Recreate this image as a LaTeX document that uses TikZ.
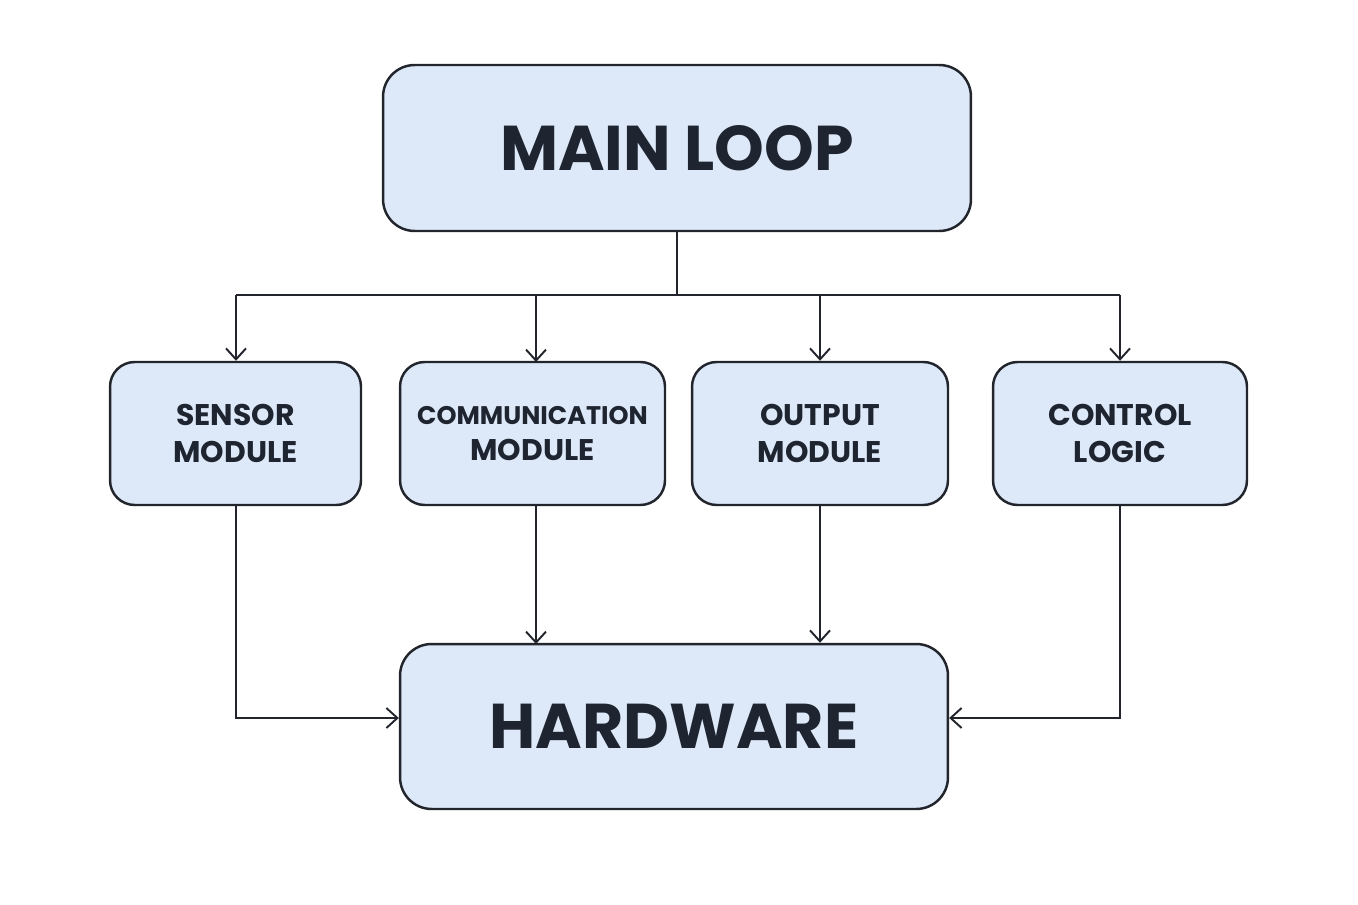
\documentclass[tikz,border=0pt]{standalone}
\usepackage{fontspec}
\setmainfont{Poppins}
\usetikzlibrary{arrows.meta, calc, positioning}
\definecolor{boxFill}{HTML}{DDE9F8}
\definecolor{boxLine}{HTML}{22262C}
\definecolor{txtDark}{HTML}{1F2530}
\tikzstyle{bigBox}=[draw=boxLine, fill=boxFill, line width=1.4pt, rounded corners=18pt, align=center, text=txtDark, font=\bfseries]
\tikzstyle{modBox}=[draw=boxLine, fill=boxFill, line width=1.4pt, rounded corners=14pt, align=center, text=txtDark, font=\bfseries\fontsize{17}{21}\selectfont, minimum height=2.86cm]
\tikzstyle{flowArrow}=[line width=1.1pt, draw=boxLine, -{Straight Barb[length=2.2mm,width=4mm]}]
\tikzstyle{flowLine}=[line width=1.1pt, draw=boxLine]
\begin{document}
\begin{tikzpicture}[x=0.02cm, y=-0.02cm]
    \useasboundingbox (0,0) rectangle (1358,905);
    % Top and bottom boxes
    \node[bigBox, minimum width=11.76cm, minimum height=3.32cm, font=\bfseries\fontsize{36}{40}\selectfont] (mainLoop) at (677,148) {MAIN LOOP};
    \node[bigBox, minimum width=10.96cm, minimum height=3.3cm, font=\bfseries\fontsize{36}{40}\selectfont] (hardware) at (674,726.5) {HARDWARE};

    % Module boxes
    \node[modBox, minimum width=5.02cm] (sensor) at (235.5,433.5) {SENSOR\\MODULE};
    \node[modBox, minimum width=5.3cm] (comm) at (532.5,433.5) {{\fontsize{14.5}{21}\selectfont COMMUNICATION}\\MODULE};
    \node[modBox, minimum width=5.12cm] (output) at (820,433.5) {OUTPUT\\MODULE};
    \node[modBox, minimum width=5.08cm] (control) at (1120,433.5) {CONTROL\\LOGIC};

    % Distribution bus
    \coordinate (busTop) at (mainLoop.south |- 0,295);
    \coordinate (busL) at (236,295);
    \coordinate (busR) at (1120,295);
    \draw[flowLine] (mainLoop.south) -- (busTop);
    \draw[flowLine] (busL) -- (busR);
    \draw[flowArrow] (busL) -- (busL |- sensor.north);
    \draw[flowArrow] (536,295) -- (536,362);
    \draw[flowArrow] (busR) -- (busR |- control.north);
    \draw[flowArrow] (820,295) -- (output.north);

    % Into hardware
    \draw[flowArrow] (comm.south -| 536,0) -- (536,644);
    \draw[flowArrow] (output.south) -- (output.south |- hardware.north);
    \draw[flowArrow] (236,505) |- (hardware.west |- 0,718);
    \draw[flowArrow] (control.south) |- (hardware.east |- 0,718);
\end{tikzpicture}
\end{document}
